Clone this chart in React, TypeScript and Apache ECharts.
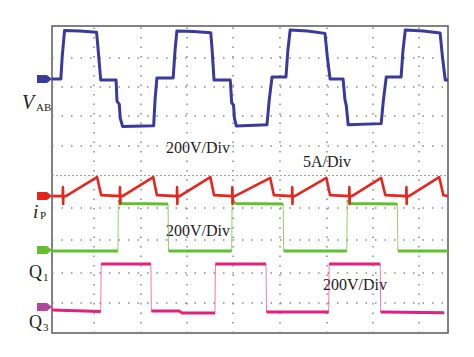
import React, { useEffect, useRef } from "react";
import * as echarts from "echarts";

// Time axis in screen divisions (visible part of the scope screen), amplitude in divisions
const T_MAX = 8.53;
const V_MAX = 10;

const GRID_X = [0.905, 1.905, 2.905, 3.905, 4.905, 5.905, 6.905, 7.905];
const GRID_Y = [8.96, 8.01, 7.07, 6.09, 4.07, 3.03, 1.95, 0.98];
const CENTER_Y = [5.13];

// V_AB trace
const VAB: number[][] = [
  [0, 8.27], [0.19, 8.27], [0.22, 9.0], [0.27, 9.85], [0.6, 9.84], [0.96, 9.8],
  [0.99, 9.3], [1.05, 8.24], [1.38, 8.24], [1.4, 7.55], [1.45, 7.45], [1.47, 7.0], [1.52, 6.73],
  [2.19, 6.75], [2.22, 7.6], [2.26, 8.31], [2.61, 8.31], [2.65, 9.2], [2.69, 9.84], [3.05, 9.82], [3.42, 9.78],
  [3.45, 9.2], [3.49, 8.24], [3.84, 8.24], [3.87, 7.5], [3.91, 7.42], [3.93, 7.0], [3.97, 6.74],
  [4.63, 6.78], [4.68, 7.6], [4.74, 8.34], [5.04, 8.34], [5.08, 9.2], [5.13, 9.87], [5.5, 9.84], [5.88, 9.76],
  [5.93, 9.0], [5.99, 8.27], [6.27, 8.27], [6.31, 7.6], [6.34, 7.4], [6.38, 6.78],
  [7.09, 6.82], [7.14, 7.6], [7.2, 8.34], [7.52, 8.34], [7.56, 9.2], [7.61, 9.87], [8.0, 9.84], [8.36, 9.77],
  [8.41, 9.0], [8.47, 8.24], [8.53, 8.24],
];

// i_P trace
const IP: number[][] = [
  [0, 4.46], [0.23, 4.46], [0.235, 4.75], [0.24, 4.2], [0.245, 4.46], [0.3, 4.46], [0.97, 5.08], [1.06, 4.49],
  [1.46, 4.46], [1.465, 4.75], [1.47, 4.2], [1.475, 4.46], [1.52, 4.46], [2.18, 5.08], [2.26, 4.49],
  [2.69, 4.46], [2.695, 4.75], [2.7, 4.2], [2.705, 4.46], [2.75, 4.46], [3.41, 5.08], [3.49, 4.49],
  [3.88, 4.46], [3.885, 4.75], [3.89, 4.2], [3.895, 4.46], [3.94, 4.46], [4.7, 5.05], [4.78, 4.49],
  [5.17, 4.46], [5.175, 4.75], [5.18, 4.2], [5.185, 4.46], [5.23, 4.46], [5.91, 5.05], [5.99, 4.49],
  [6.4, 4.46], [6.405, 4.75], [6.41, 4.2], [6.415, 4.46], [6.46, 4.46], [7.09, 5.05], [7.18, 4.49],
  [7.63, 4.46], [7.635, 4.75], [7.64, 4.2], [7.645, 4.46], [7.69, 4.46], [8.34, 5.08], [8.43, 4.49], [8.53, 4.46],
];

// Q1 gate signal
const Q1: number[][] = [
  [0, 2.67], [1.42, 2.67], [1.43, 4.33], [1.5, 4.22], [2.5, 4.2], [2.51, 2.67],
  [3.87, 2.67], [3.88, 4.33], [3.95, 4.22], [4.98, 4.2], [4.99, 2.67],
  [6.35, 2.67], [6.36, 4.33], [6.43, 4.22], [7.44, 4.2], [7.45, 2.67], [8.53, 2.67],
];

// Q3 gate signal
const Q3: number[][] = [
  [0, 0.75], [1.05, 0.7], [1.06, 2.25], [2.13, 2.25], [2.14, 0.72], [2.76, 0.72], [2.78, 0.65],
  [3.51, 0.65], [3.52, 2.25], [4.61, 2.25], [4.62, 0.68], [5.96, 0.68], [5.97, 2.25],
  [7.07, 2.25], [7.08, 0.68], [8.45, 0.66],
];

// Channel reference (ground) markers
const REF_LEVELS = [8.27, 4.46, 2.7, 0.85];

const SCALE_LABELS = ["200V/Div", "5A/Div", "200V/Div", "200V/Div"];

const C_VAB = "#3a3a9e";
const C_IP = "#e6261e";
const C_Q1 = "#62bf2e";
const C_Q3 = "#e2207f";
const REF_COLORS = [C_VAB, C_IP, C_Q1, "#b4449c"];

function flatParts(d: number[][]): any[] {
  const out: any[] = [];
  for (let i = 0; i < d.length - 1; i++) {
    const a = d[i];
    const b = d[i + 1];
    if (b[0] - a[0] > 0.02) {
      out.push(a, b, [b[0], "-"]);
    }
  }
  return out;
}

const SERIF = "'Liberation Serif', 'DejaVu Serif', serif";

export default function App() {
  const ref = useRef<HTMLDivElement>(null);
  useEffect(() => {
    if (!ref.current) return;
    const chart = echarts.init(ref.current, undefined, { renderer: "svg" });
    const gridLine = {
      type: "line",
      data: [],
      z: 1,
      silent: true,
      markLine: {
        z: 1,
        silent: true,
        symbol: "none",
        label: { show: false },
        animation: false,
        lineStyle: { color: "#8a8a8a", width: 1.5, type: [1.5, 8] },
        data: [
          ...GRID_X.map((x) => ({ xAxis: x })),
          ...GRID_Y.map((y) => ({ yAxis: y })),
        ],
      },
    };
    const centerLine = {
      type: "line",
      data: [],
      z: 1,
      silent: true,
      markLine: {
        z: 1,
        silent: true,
        symbol: "none",
        label: { show: false },
        animation: false,
        lineStyle: { color: "#a0a0a0", width: 1, type: [2, 2] },
        data: CENTER_Y.map((y) => ({ yAxis: y })),
      },
    };
    const lineSeries = (data: any[], color: string, width: number, opacity = 1) => ({
      type: "line",
      data,
      showSymbol: false,
      symbol: "none",
      connectNulls: false,
      z: 3,
      silent: true,
      lineStyle: { color, width, opacity, join: "round" },
    });
    const textStyle = (text: string, x: number, y: number, size: number, italic = false) => ({
      type: "text",
      x,
      y,
      silent: true,
      style: {
        text,
        fontSize: size,
        fontFamily: SERIF,
        fontStyle: italic ? "italic" : "normal",
        fill: "#1c1c1c",
        align: "left",
        verticalAlign: "middle",
      },
    });
    chart.setOption({
      animation: false,
      backgroundColor: "#ffffff",
      grid: {
        left: 52,
        top: 26,
        width: 396,
        height: 307,
        show: true,
        borderColor: "#5a5a5a",
        borderWidth: 1.5,
        backgroundColor: "#ffffff",
      },
      xAxis: {
        type: "value",
        min: 0,
        max: T_MAX,
        show: false,
        splitLine: { show: false },
      },
      yAxis: {
        type: "value",
        min: 0,
        max: V_MAX,
        show: false,
        splitLine: { show: false },
      },
      series: [
        gridLine,
        centerLine,
        lineSeries(Q3, C_Q3, 1, 0.6),
        lineSeries(flatParts(Q3), C_Q3, 3),
        lineSeries(Q1, C_Q1, 1, 0.7),
        lineSeries(flatParts(Q1), C_Q1, 3),
        lineSeries(IP, C_IP, 2.6),
        lineSeries(VAB, C_VAB, 3),
        {
          type: "scatter",
          clip: false,
          silent: true,
          z: 5,
          symbol: "path://M0,0 L10,0 L15,4 L10,8 L0,8 Z",
          symbolSize: [15, 8],
          symbolOffset: [-7.5, 0],
          data: REF_LEVELS.map((v, i) => ({
            value: [0, v],
            itemStyle: { color: REF_COLORS[i], opacity: 1 },
          })),
        },
      ],
      graphic: [
        textStyle(SCALE_LABELS[0], 166, 147, 16),
        textStyle(SCALE_LABELS[1], 303, 161, 16),
        textStyle(SCALE_LABELS[2], 166, 230, 16),
        textStyle(SCALE_LABELS[3], 323, 284, 16),
        textStyle("V", 22, 102, 20, true),
        textStyle("AB", 36, 107, 11),
        textStyle("i", 33, 211, 19, true),
        textStyle("P", 40, 215, 11),
        textStyle("Q", 29, 272, 18),
        textStyle("1", 43, 277, 11),
        textStyle("Q", 29, 322, 18),
        textStyle("3", 43, 327, 11),
      ],
    });
    return () => chart.dispose();
  }, []);
  return (
    <div
      ref={ref}
      style={{ position: "absolute", left: 0, top: 0, width: 474, height: 357 }}
    />
  );
}
